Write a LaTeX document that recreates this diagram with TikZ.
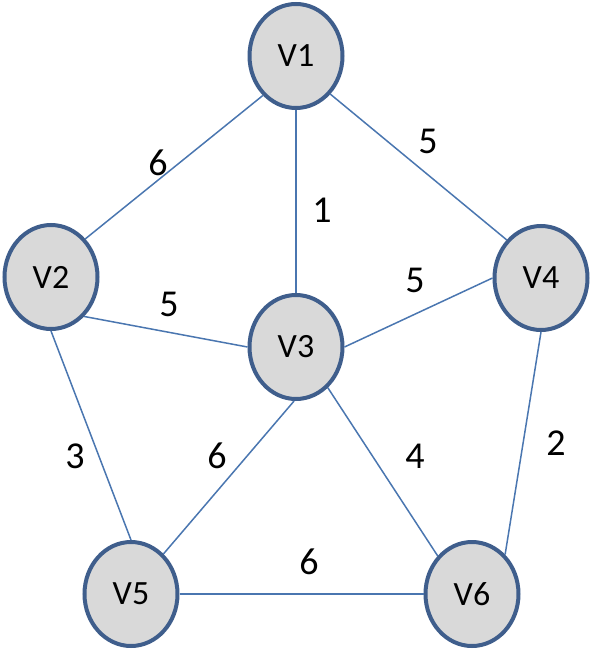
\documentclass[tikz,border=0pt]{standalone}
\usepackage{fontspec}
\setmainfont{Carlito}
\usetikzlibrary{shapes.geometric}
\definecolor{vborder}{HTML}{3F5E8C}
\definecolor{vfill}{HTML}{D9D9D9}
\definecolor{edgeblue}{HTML}{4A76B0}
\begin{document}
\begin{tikzpicture}[x=1pt,y=-1pt,
    vertex/.style={ellipse, draw=vborder, fill=vfill, line width=4pt,
        minimum width=93pt, minimum height=104pt, inner sep=0pt,
        font=\fontsize{34}{40}\selectfont},
    wt/.style={font=\fontsize{38}{44}\selectfont, inner sep=0pt},
    edge/.style={draw=edgeblue, line width=1.5pt}]
\useasboundingbox (0,0) rectangle (592,650);

\node[vertex] (v1) at (296,56) {V1};
\node[vertex] (v2) at (51,277) {V2};
\node[vertex] (v3) at (296,347) {V3};
\node[vertex] (v4) at (541,278) {V4};
\node[vertex] (v5) at (131,594) {V5};
\node[vertex] (v6) at (472,594) {V6};

\draw[edge] (v1.-130) -- (v2.48);
\draw[edge] (v1.-90) -- (v3.90);
\draw[edge] (v1.-48) -- (v4.132);
\draw[edge] (v2.-50) -- (v3.180);
\draw[edge] (v2.-90) -- (v5.90);
\draw[edge] (v3.0) -- (v4.180);
\draw[edge] (v3.-92) -- (v5.51);
\draw[edge] (v3.-52) -- (v6.132);
\draw[edge] (v4.-90) -- (v6.50);
\draw[edge] (v5.0) -- (v6.180);

\node[wt] (w12) at (158,163) {6};
\node[wt] (w13) at (322,210) {1};
\node[wt] (w14) at (428,141) {5};
\node[wt] (w23) at (169,304) {5};
\node[wt] (w34) at (415,280) {5};
\node[wt] (w25) at (75,456) {3};
\node[wt] (w35) at (217,456) {6};
\node[wt] (w36) at (415,456) {4};
\node[wt] (w46) at (556,443) {2};
\node[wt] (w56) at (309,562) {6};
\end{tikzpicture}
\end{document}
